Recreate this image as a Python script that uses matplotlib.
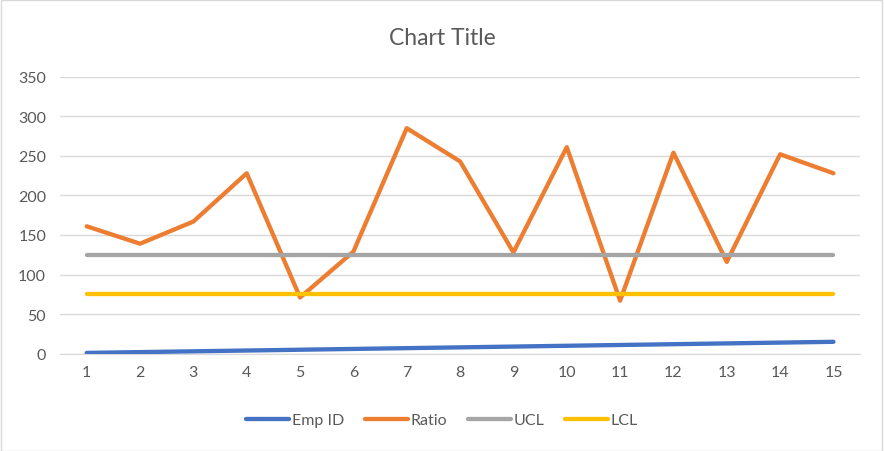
import matplotlib
matplotlib.use("Agg")
import matplotlib.pyplot as plt
from matplotlib.patches import Rectangle

plt.rcParams['font.family'] = ['Lato', 'DejaVu Sans']

categories = list(range(1, 16))
emp_id = [1, 2, 3, 4, 5, 6, 7, 8, 9, 10, 11, 12, 13, 14, 15]
ratio = [161, 139, 167, 228, 71, 129, 285, 243, 128, 261, 67, 254, 116, 252, 228]
ucl = [124.5] * 15
lcl = [75.5] * 15
y_ticks = [0, 50, 100, 150, 200, 250, 300, 350]

series = [("Emp ID", emp_id, "#4472C4"),
          ("Ratio", ratio, "#ED7D31"),
          ("UCL", ucl, "#A5A5A5"),
          ("LCL", lcl, "#FFC000")]

fig = plt.figure(figsize=(8.84, 4.52), dpi=100)
ax = fig.add_axes([0.0679, 0.2153, 0.9051, 0.6127])

for name, vals, col in series:
    ax.plot(categories, vals, color=col, lw=3.1, label=name,
            solid_capstyle='round', solid_joinstyle='round', zorder=3)

ax.set_xlim(0.5, 15.5)
ax.set_ylim(0, 350)
ax.set_yticks(y_ticks)
ax.set_xticks(categories)
ax.set_xticklabels([str(c) for c in categories])
ax.grid(axis='y', color='#D9D9D9', lw=1)
ax.set_axisbelow(True)
for s in ['top', 'right', 'left']:
    ax.spines[s].set_visible(False)
ax.spines['bottom'].set_color('#D9D9D9')
ax.tick_params(axis='both', length=0, colors='#595959', labelsize=11.5)
ax.tick_params(axis='x', pad=8)
ax.tick_params(axis='y', pad=10)

fig.text(0.5, 0.914, "Chart Title", ha='center', va='center', fontsize=16.5, color='#595959')

ax.legend(loc='center', bbox_to_anchor=(0.5, 0.068), bbox_transform=fig.transFigure,
          ncol=4, frameon=False, fontsize=11.5, labelcolor='#595959',
          handlelength=2.7, handletextpad=0.15, columnspacing=1.3)

fig.patches.append(Rectangle((0.001, 0.001), 0.997, 0.997, transform=fig.transFigure,
                             fill=False, edgecolor='#D9D9D9', lw=1))

fig.savefig("out.png", dpi=100)
